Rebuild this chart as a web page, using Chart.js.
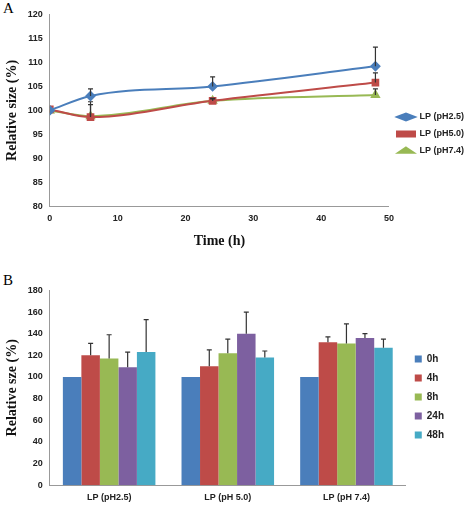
<!DOCTYPE html>
<html>
<head>
<meta charset="utf-8">
<script src="https://cdn.jsdelivr.net/npm/chart.js@4"></script>
<style>
  body { margin: 0; background: #fff; width: 474px; height: 506px; position: relative; overflow: hidden; }
  .tag { position: absolute; left: 3px; font: 15px "Liberation Serif", serif; }
  #wrapA { position: absolute; left: 0; top: 6px; width: 474px; height: 248px; }
  #wrapB { position: absolute; left: 0; top: 282px; width: 474px; height: 224px; }
</style>
</head>
<body>
<div class="tag" style="top:0px">A</div>
<div class="tag" style="top:272px">B</div>
<div id="wrapA"><canvas id="chartA"></canvas></div>
<div id="wrapB"><canvas id="chartB"></canvas></div>
<script>
// panel A
const times = [0, 6, 24, 48];
const ph25 = [100, 103, 105, 109.2];
const ph25Err = [0, 1.5, 2, 4];
const ph50 = [100.2, 98.6, 102, 105.8];
const ph50Err = [0, 3.2, 0.5, 2];
const ph74 = [100, 98.8, 102, 103.2];
const ph74Err = [0, 2.4, 0.4, 1.3];

// panel B
const groups = ["LP (pH2.5)", "LP (pH 5.0)", "LP (pH 7.4)"];
const hours = ["0h", "4h", "8h", "24h", "48h"];
const barValues = [
  [100, 100, 100],
  [120, 110, 132],
  [117, 122, 131],
  [109, 140, 136],
  [123, 118, 127]
];
const barErr = [
  [0, 0, 0],
  [11, 15, 5],
  [22, 13, 18],
  [14, 20, 4],
  [30, 6, 8]
];

const barColors = ["#4a7ebb", "#be4b48", "#98b954", "#7d60a0", "#46aac5"];
const tickFont = { family: "Liberation Sans, Arial", size: 9, weight: "bold" };
const titleFont = { family: "Liberation Serif, serif", size: 14, weight: "bold" };

const errorBars = {
  id: "errorBars",
  afterDatasetsDraw(chart) {
    const ctx = chart.ctx;
    const yScale = chart.scales.y;
    ctx.save();
    ctx.strokeStyle = "#333";
    ctx.lineWidth = 1.2;
    chart.data.datasets.forEach((ds, i) => {
      if (!ds.err) return;
      const meta = chart.getDatasetMeta(i);
      meta.data.forEach((el, j) => {
        const e = ds.err[j];
        if (!e) return;
        const v = typeof ds.data[j] === "object" ? ds.data[j].y : ds.data[j];
        const y0 = yScale.getPixelForValue(v);
        const y1 = yScale.getPixelForValue(v + e);
        ctx.beginPath();
        ctx.moveTo(el.x, y0);
        ctx.lineTo(el.x, y1);
        ctx.moveTo(el.x - 2.5, y1);
        ctx.lineTo(el.x + 2.5, y1);
        ctx.stroke();
      });
    });
    ctx.restore();
  }
};

function lineSet(label, vals, err, color, style, r) {
  return {
    label, err,
    data: times.map((t, i) => ({ x: t, y: vals[i] })),
    borderColor: color, backgroundColor: color,
    pointStyle: style, pointRadius: r, borderWidth: 2,
    cubicInterpolationMode: "monotone"
  };
}

new Chart(document.getElementById("chartA"), {
  type: "line",
  data: {
    datasets: [
      lineSet("LP (pH2.5)", ph25, ph25Err, "#4a7ebb", "rectRot", 4),
      lineSet("LP (pH5.0)", ph50, ph50Err, "#be4b48", "rect", 4),
      lineSet("LP (pH7.4)", ph74, ph74Err, "#98b954", "triangle", 4)
    ]
  },
  options: {
    responsive: true, maintainAspectRatio: false, animation: false,
    layout: { padding: { top: 8, right: 0 } },
    plugins: {
      legend: {
        position: "right",
        labels: { usePointStyle: true, pointStyleWidth: 18, boxHeight: 5, padding: 8,
          font: { family: "Liberation Sans, Arial", size: 9, weight: "bold" }, color: "#222" }
      },
      tooltip: { enabled: false }
    },
    scales: {
      x: {
        type: "linear", min: 0, max: 50,
        ticks: { stepSize: 10, font: tickFont, color: "#222" },
        grid: { display: false, drawTicks: true, tickLength: 4 },
        border: { color: "#999" },
        title: { display: true, text: "Time (h)", font: titleFont, color: "#111", padding: { top: 6 } }
      },
      y: {
        min: 80, max: 120,
        ticks: { stepSize: 5, font: tickFont, color: "#222" },
        grid: { display: false, tickLength: 4 },
        border: { color: "#999" },
        title: { display: true, text: "Relative size (%)", font: titleFont, color: "#111" }
      }
    }
  },
  plugins: [errorBars]
});

new Chart(document.getElementById("chartB"), {
  type: "bar",
  data: {
    labels: groups,
    datasets: hours.map((h, i) => ({
      label: h, data: barValues[i], err: barErr[i],
      backgroundColor: barColors[i], borderWidth: 0
    }))
  },
  options: {
    responsive: true, maintainAspectRatio: false, animation: false,
    layout: { padding: { top: 6, right: 20 } },
    datasets: { bar: { categoryPercentage: 0.78, barPercentage: 1.0 } },
    plugins: {
      legend: {
        position: "right",
        labels: { boxWidth: 7, boxHeight: 7, padding: 9,
          font: { family: "Liberation Sans, Arial", size: 10, weight: "bold" }, color: "#222" }
      },
      tooltip: { enabled: false }
    },
    scales: {
      x: {
        ticks: { font: tickFont, color: "#222" },
        grid: { display: false, tickLength: 4 },
        border: { color: "#999" }
      },
      y: {
        min: 0, max: 180,
        ticks: { stepSize: 20, font: tickFont, color: "#222" },
        grid: { display: false, tickLength: 4 },
        border: { color: "#999" },
        title: { display: true, text: "Relative sze (%)", font: titleFont, color: "#111" }
      }
    }
  },
  plugins: [errorBars]
});
</script>
</body>
</html>
